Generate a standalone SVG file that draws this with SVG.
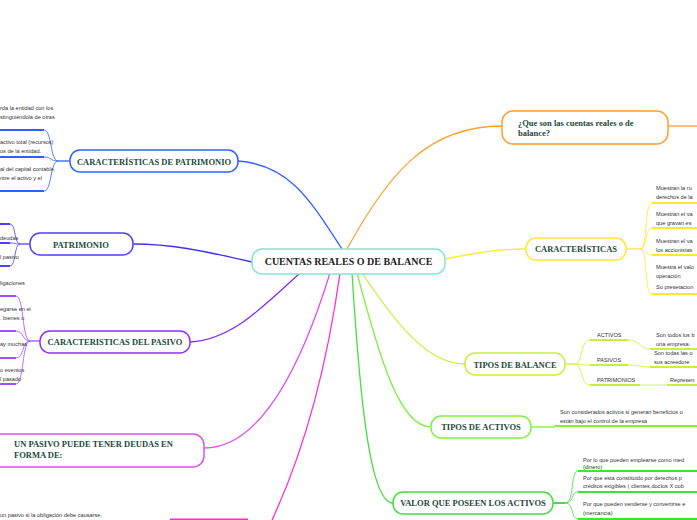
<svg xmlns="http://www.w3.org/2000/svg" width="697" height="520" viewBox="0 0 697 520">
<style>
.n{fill:#fff;stroke-width:1.5}
.t{font-family:"Liberation Serif",serif;font-weight:bold;font-size:8.5px;fill:#1d4a3c}
.s{font-family:"Liberation Sans",sans-serif;font-size:5.6px;fill:#333}
.c{fill:none;stroke-width:1.3}
.u{fill:none;stroke-width:2}
.b{fill:none;stroke-width:0.8}
</style>
<rect width="697" height="520" fill="#fff"/>
<g id="connectors">
<path class="c" stroke="#ffa030" d="M347,249 C390,170 430,126 502,126"/>
<path class="c" stroke="#ffa030" d="M668,126 H697"/>
<path class="c" stroke="#3060ff" d="M342,249 C310,200 290,165 238,161"/>
<path class="c" stroke="#4030f0" d="M252,262 C200,250 170,244 133,244"/>
<path class="c" stroke="#ffe92a" d="M445,259 C480,252 500,249 526,249"/>
<path class="c" stroke="#8030ff" d="M300,273 C260,310 230,340 190,342"/>
<path class="c" stroke="#e050f0" d="M330,273 C300,370 260,448 204,448"/>
<path class="c" stroke="#ff30c8" d="M340,273 C325,380 300,460 272,520"/>
<path class="c" stroke="#c8f03a" d="M362,273 C400,330 430,364 465,364"/>
<path class="c" stroke="#80f040" d="M357,273 C380,360 400,427 431,427"/>
<path class="c" stroke="#40e040" d="M352,273 C360,400 370,503 393,503"/>
<!-- characteristic leaves -->
<g stroke="#ffe92a">
<path class="c" d="M626,249 H640"/>
<path class="b" d="M640,249 C648,249 644,203 652,203 M640,249 C648,249 644,228 652,228 M640,249 C648,249 644,255 652,255 M640,249 C648,249 644,294 652,294"/>
<path class="u" d="M652,203 H697 M652,228 H697 M652,255 H697 M652,294 H697"/>
</g>
<g stroke="#c8f03a">
<path class="c" d="M565,364 H575"/>
<path class="b" d="M575,364 C583,364 580,340 590,340 M575,364 C583,364 580,365 590,365 M575,364 C583,364 580,385 590,385"/>
<path class="u" d="M590,340 H628 M590,365 H628 M590,385 H640 M650,349 H697 M650,367 H697 M667,385 H697"/>
<path class="b" d="M628,340 C640,340 640,349 650,349 M628,365 C640,365 640,367 650,367 M640,385 H667"/>
</g>
<g stroke="#80f040">
<path class="c" d="M531,427 H555"/>
<path class="u" d="M555,426 H697"/>
</g>
<g stroke="#40e040">
<path class="u" d="M553,503 H565"/>
<path class="b" d="M565,503 C575,503 570,471 578,471 M565,503 C575,503 570,492 578,492 M565,503 C575,503 570,519 578,519"/>
<path class="u" d="M578,471 H697 M578,492 H697 M578,519 H697"/>
</g>
<g stroke="#3060ff">
<path class="c" d="M70,161 H58"/>
<path class="b" d="M58,161 C50,161 52,130 44,130 M58,161 C50,161 52,157 44,157 M58,161 C50,161 52,191 44,191"/>
<path class="u" d="M0,130 H44 M0,157 H44 M0,191 H44"/>
</g>
<g stroke="#5040ff">
<path class="c" d="M30,244 H20"/>
<path class="b" d="M20,244 C14,244 16,224 10,224 M20,244 C14,244 16,243 10,243 M20,244 C14,244 16,266 10,266"/>
<path class="u" d="M0,224 H10 M0,243 H10 M0,266 H10"/>
</g>
<g stroke="#a050ff">
<path class="c" d="M40,341 H30"/>
<path class="b" d="M30,341 C22,341 24,296 16,296 M30,341 C22,341 24,331 16,331 M30,341 C22,341 24,358 16,358 M30,341 C22,341 24,384 16,384"/>
<path class="u" d="M0,296 H16 M0,331 H16 M0,358 H16 M0,384 H16"/>
</g>
<path class="u" stroke="#ff30c8" d="M170,519.5 H248"/>
</g>
<g id="center"><rect class="n" stroke="#7de8d4" x="252" y="249" width="193" height="25" rx="10"/><text class="t" font-size="10" x="348.5" y="265" text-anchor="middle" style="font-size:10px;fill:#222">CUENTAS REALES O DE BALANCE</text></g>
<g id="que-son"><rect class="n" stroke="#ffa030" x="502" y="111" width="166" height="33" rx="11"/><text class="t" x="518" y="126">¿Que son las cuentas reales o de</text><text class="t" x="518" y="136">balance?</text></g>
<g id="caracteristicas"><rect class="n" stroke="#ffe92a" x="526" y="238" width="100" height="22" rx="10"/><text class="t" x="576" y="252" text-anchor="middle">CARACTERÍSTICAS</text>
<text class="s" x="656" y="190">Muestran la ru</text><text class="s" x="656" y="199">derechos de la</text>
<text class="s" x="656" y="216">Muestran el va</text><text class="s" x="656" y="225">que gravan es</text>
<text class="s" x="656" y="243">Muestran el va</text><text class="s" x="656" y="252">los accionistas</text>
<text class="s" x="656" y="269">Muestra el valo</text><text class="s" x="656" y="278">operación</text><text class="s" x="656" y="289">Su presetacion</text></g>
<g id="tipos-balance"><rect class="n" stroke="#c8f03a" x="465" y="353" width="100" height="22" rx="10"/><text class="t" x="515" y="368" text-anchor="middle">TIPOS DE BALANCE</text>
<text class="s" x="597" y="337">ACTIVOS</text><text class="s" x="597" y="362">PASIVOS</text><text class="s" x="597" y="382">PATRIMONIOS</text>
<text class="s" x="656" y="337">Son todos los b</text><text class="s" x="656" y="346">una empresa.</text>
<text class="s" x="654" y="355">Son todas las o</text><text class="s" x="654" y="364">sus acreedore</text>
<text class="s" x="670" y="382">Represen</text></g>
<g id="tipos-activos"><rect class="n" stroke="#80f040" x="431" y="416" width="100" height="22" rx="10"/><text class="t" x="481" y="430" text-anchor="middle">TIPOS DE ACTIVOS</text>
<text class="s" x="560" y="414">Son considerados activos si generan beneficios o</text><text class="s" x="560" y="423">están bajo el control de la empresa</text></g>
<g id="valor"><rect class="n" stroke="#40e040" x="393" y="492" width="160" height="22" rx="10"/><text class="t" x="473" y="506" text-anchor="middle">VALOR QUE POSEEN LOS ACTIVOS</text>
<text class="s" x="583" y="462">Por lo que pueden emplearse como med</text><text class="s" x="583" y="469">(dinero)</text>
<text class="s" x="583" y="480">Por que esta constituido por derechos p</text><text class="s" x="583" y="488">créditos exigibles ( clientes,doctos X cob</text>
<text class="s" x="583" y="506">Por que pueden venderse y convertirse e</text><text class="s" x="583" y="515">(mercancia)</text></g>
<g id="car-patrimonio"><rect class="n" stroke="#3060ff" x="70" y="150" width="168" height="22" rx="10"/><text class="t" x="154" y="165" text-anchor="middle">CARACTERÍSTICAS DE PATRIMONIO</text>
<text class="s" x="0" y="110">rda la entidad con los</text><text class="s" x="0" y="119">stinguiéndola de otras</text>
<text class="s" x="0" y="144">activo total (recursos)</text><text class="s" x="0" y="153">os de la entidad.</text>
<text class="s" x="0" y="171">al del capital contable,</text><text class="s" x="0" y="180">ntre el activo y el</text></g>
<g id="patrimonio"><rect class="n" stroke="#5040ff" x="30" y="233" width="103" height="22" rx="10"/><text class="t" x="81" y="248" text-anchor="middle">PATRIMONIO</text>
<text class="s" x="0" y="240">deudas</text><text class="s" x="0" y="259">l pasivo</text></g>
<g id="car-pasivo"><rect class="n" stroke="#9030ff" x="40" y="331" width="150" height="22" rx="10"/><text class="t" x="115" y="345" text-anchor="middle">CARACTERISTICAS DEL PASIVO</text>
<text class="s" x="0" y="285">ligaciones</text>
<text class="s" x="0" y="311">egarse en el</text><text class="s" x="0" y="320">. bienes o</text>
<text class="s" x="0" y="346">ay muchas</text>
<text class="s" x="0" y="372">o eventos</text><text class="s" x="0" y="381">l pasado</text></g>
<g id="deudas"><rect class="n" stroke="#e050f0" x="-10" y="434" width="214" height="33" rx="11"/><text class="t" x="14" y="447">UN PASIVO PUEDE TENER DEUDAS EN</text><text class="t" x="14" y="458">FORMA DE:</text></g>
<g id="bottom"><text class="s" x="0" y="517">un pasivo si la obligación debe causarse,</text></g>
</svg>
